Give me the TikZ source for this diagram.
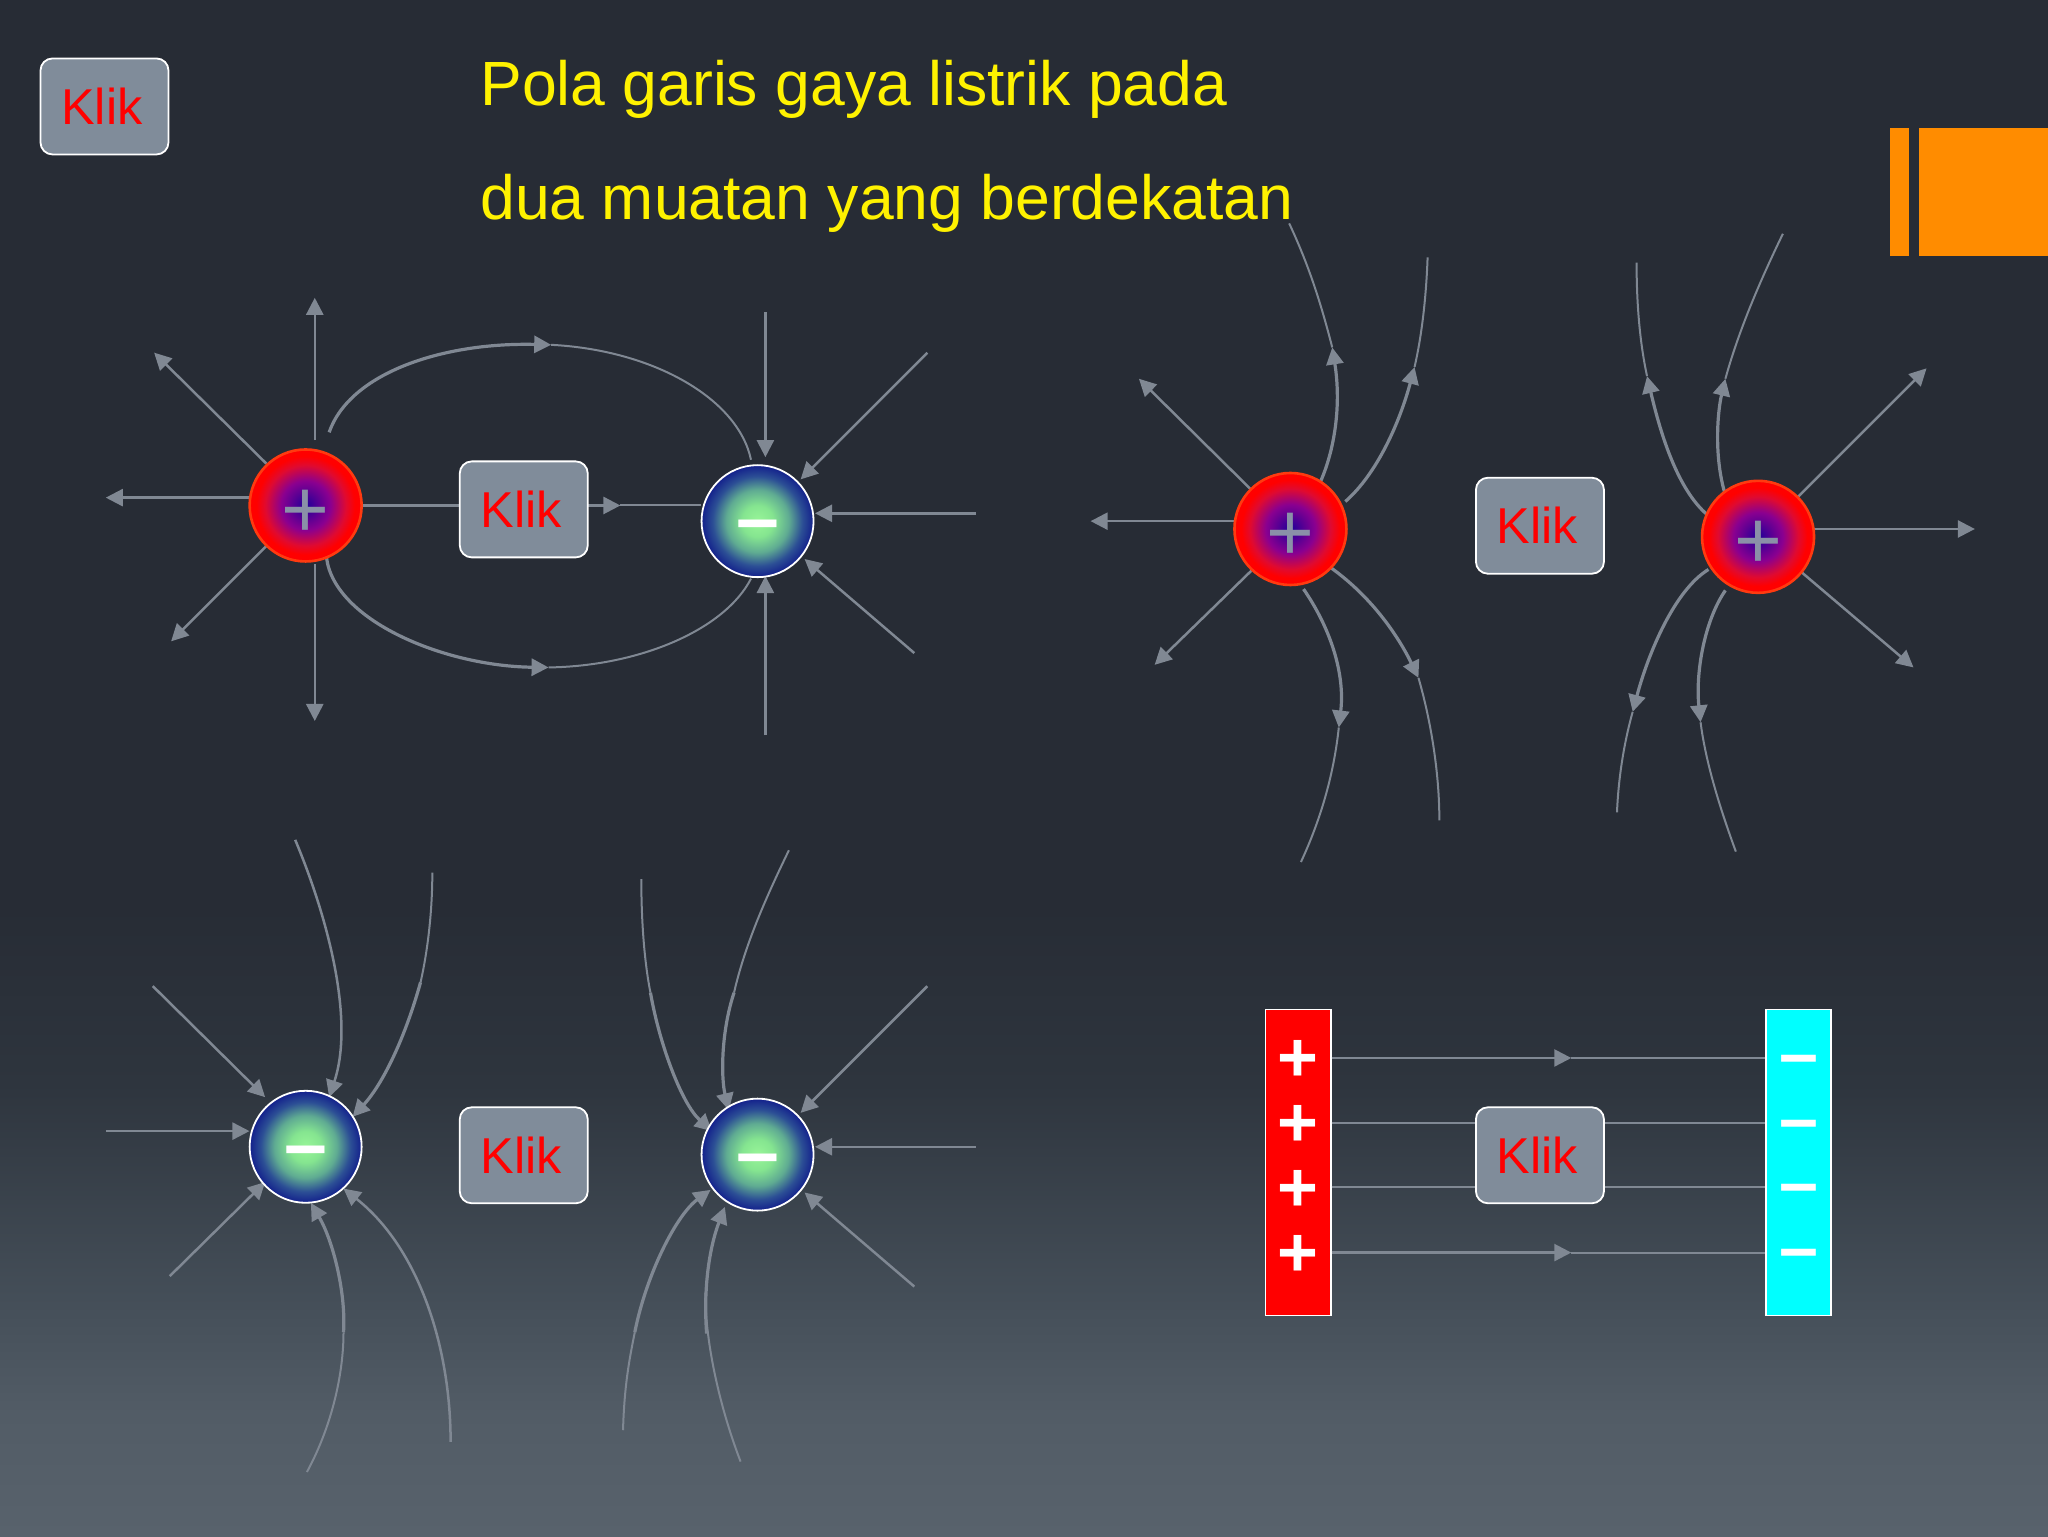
\documentclass[tikz,border=0pt]{standalone}
\usepackage{fontspec}
\setmainfont{Liberation Sans}
\usetikzlibrary{arrows.meta}
\definecolor{bgtop}{HTML}{272C35}
\definecolor{bgmid}{HTML}{2E353E}
\definecolor{bglow}{HTML}{454F59}
\definecolor{bglow2}{HTML}{525C66}
\definecolor{bgbot}{HTML}{58626C}
\definecolor{linecol}{HTML}{808893}
\definecolor{boxfill}{HTML}{808C9A}
\definecolor{plusc}{HTML}{8A90A8}
\definecolor{orangebar}{HTML}{FF8C00}
\definecolor{cyanplate}{HTML}{00FFFF}
\definecolor{redplate}{HTML}{FF0000}
\definecolor{pa}{HTML}{200098}
\definecolor{pb}{HTML}{8A0090}
\definecolor{pc}{HTML}{E00A30}
\definecolor{pd}{HTML}{FF0000}
\definecolor{na}{HTML}{98F598}
\definecolor{nb}{HTML}{85E590}
\definecolor{nc}{HTML}{5FAB92}
\definecolor{nd}{HTML}{2C4F95}
\definecolor{ne}{HTML}{13208C}
\definecolor{posring}{HTML}{FF3A10}
\pgfdeclareverticalshading{bgshade}{100bp}{
  color(0bp)=(bgbot); color(25bp)=(bgbot); color(29bp)=(bglow2); color(32.5bp)=(bglow); color(39.7bp)=(bgmid); color(45.5bp)=(bgtop); color(100bp)=(bgtop)}
\pgfdeclareradialshading{poscharge}{\pgfpoint{0bp}{0bp}}{
  color(0bp)=(pa); color(11bp)=(pb); color(18bp)=(pc); color(22bp)=(pd); color(25bp)=(pd); color(50bp)=(pd)}
\pgfdeclareradialshading{negcharge}{\pgfpoint{0bp}{0bp}}{
  color(0bp)=(na); color(7bp)=(nb); color(14bp)=(nc); color(20bp)=(nd); color(25bp)=(ne); color(50bp)=(ne)}
\newcommand{\possign}{\smash{\raisebox{-.385em}{+}}}
\newcommand{\negsign}{\smash{\raisebox{-.308em}{–}}}
\newcommand{\plateplus}{\smash{\raisebox{-.34em}{+}}}
\newcommand{\plateminus}{\smash{\raisebox{-.277em}{–}}}
\newcommand{\kliktext}{Klik\kern2.6pt\relax}
\tikzset{
  fl/.style={draw=linecol,line width=1.25pt,-{Triangle[length=8.5pt,width=8.5pt]}},
  fc/.style={fl,line width=1.6pt},
  fthin/.style={draw=linecol,line width=1pt},
  klik/.style={draw=white,line width=0.9pt,fill=boxfill,rounded corners=6pt,minimum width=64pt,minimum height=48pt,inner sep=0pt,text=red,font=\fontsize{25.2}{25.2}\selectfont},
  posq/.style={circle,minimum size=56pt,inner sep=0pt,shading=poscharge,draw=posring,line width=1.3pt,text=plusc,font=\fontsize{41}{41}\selectfont},
  negq/.style={circle,minimum size=56pt,inner sep=0pt,shading=negcharge,draw=white,line width=0.9pt,text=white,font=\bfseries\fontsize{38.5}{38.5}\selectfont},
  plate/.style={draw=white,line width=0.7pt,minimum width=32.6pt,minimum height=153pt,inner sep=0pt},
  sign/.style={inner sep=0pt,text=white,font=\bfseries\fontsize{35}{35}\selectfont},
  titletext/.style={anchor=base west,inner sep=0pt,text=yellow,font=\fontsize{31.25}{31.25}\selectfont},
  bar/.style={fill=orangebar,inner sep=0pt,anchor=north west}
}
\begin{document}
\begin{tikzpicture}[x=0.65306pt,y=-0.65306pt]
\useasboundingbox (0,0) rectangle (1568,1176);
\shade[shading=bgshade] (0,0) rectangle (1568,1176);
\node[bar,minimum width=9.5pt,minimum height=64pt] (bar1) at (1447,98) {};
\node[bar,minimum width=64.6pt,minimum height=64pt] (bar2) at (1469,98) {};
\node[titletext] (t1) at (367.5,81) {Pola garis gaya listrik pada};
\node[titletext] (t2) at (367.5,168) {dua muatan yang berdekatan};
\node[klik] (k0) at (80,81.5) {\kliktext};
% Panel A
\coordinate (a1) at (241,337); \coordinate (a1e) at (241,228);
\coordinate (a2) at (204,355); \coordinate (a2e) at (118,270);
\coordinate (a3) at (191,381); \coordinate (a3e) at (81,381);
\coordinate (a4) at (204,418); \coordinate (a4e) at (131,491);
\coordinate (a5) at (241,432); \coordinate (a5e) at (241,552);
\coordinate (a6) at (277,387); \coordinate (a6m) at (475,387); \coordinate (a6e) at (537,387);
\coordinate (a7) at (252,331); \coordinate (a7m) at (422,264); \coordinate (a7e) at (575,352);
\coordinate (a8) at (250,427); \coordinate (a8m) at (420,511); \coordinate (a8e) at (575,443);
\coordinate (b1) at (586,239); \coordinate (b1e) at (586,350);
\coordinate (b2) at (710,270); \coordinate (b2e) at (613,367);
\coordinate (b3) at (747,393); \coordinate (b3e) at (624,393);
\coordinate (b4) at (700,500); \coordinate (b4e) at (616,428);
\coordinate (b5) at (586,563); \coordinate (b5e) at (586,441);
\foreach \s/\e in {a1/a1e,a2/a2e,a3/a3e,a4/a4e,a5/a5e,a6/a6m,b1/b1e,b2/b2e,b3/b3e,b4/b4e,b5/b5e}
  \draw[fl] (\s) -- (\e);
\draw[fthin] (a6m) -- (a6e);
\draw[fc] (a7) .. controls (268,285) and (340,262) .. (a7m);
\draw[fthin] (a7m) .. controls (500,268) and (565,305) .. (a7e);
\draw[fc] (a8) .. controls (256,475) and (340,510) .. (a8m);
\draw[fthin] (a8m) .. controls (490,510) and (555,482) .. (a8e);
\node[posq] (qa) at (234,387) {\possign};
\node[negq] (qb) at (580,399) {\negsign};
\node[klik] (k1) at (401,390) {\kliktext};
% Panel B
\coordinate (c1) at (958,375); \coordinate (c1e) at (872,290);
\coordinate (c2) at (946,399); \coordinate (c2e) at (835,399);
\coordinate (c3) at (958,437); \coordinate (c3e) at (884,509);
\coordinate (c4) at (1010,371); \coordinate (c4m) at (1020,266); \coordinate (c4e) at (987,171);
\coordinate (c5) at (1030,384); \coordinate (c5m) at (1083,281); \coordinate (c5e) at (1093,197);
\coordinate (c6) at (998,451); \coordinate (c6m) at (1025,557); \coordinate (c6e) at (996,660);
\coordinate (c7) at (1018,434); \coordinate (c7m) at (1086,519); \coordinate (c7e) at (1102,628);
\coordinate (d1) at (1376,381); \coordinate (d1e) at (1475,282);
\coordinate (d2) at (1389,405); \coordinate (d2e) at (1512,405);
\coordinate (d3) at (1378,437); \coordinate (d3e) at (1465,511);
\coordinate (d4) at (1307,394); \coordinate (d4m) at (1261,288); \coordinate (d4e) at (1253,201);
\coordinate (d5) at (1321,379); \coordinate (d5m) at (1321,290); \coordinate (d5e) at (1365,179);
\coordinate (d6) at (1308,436); \coordinate (d6m) at (1250,545); \coordinate (d6e) at (1238,622);
\coordinate (d7) at (1321,452); \coordinate (d7m) at (1302,553); \coordinate (d7e) at (1329,652);
\foreach \s/\e in {c1/c1e,c2/c2e,c3/c3e,d1/d1e,d2/d2e,d3/d3e}
  \draw[fl] (\s) -- (\e);
\draw[fc] (c4) .. controls (1022,345) and (1027,310) .. (c4m);
\draw[fthin] (c4m) .. controls (1012,235) and (1003,205) .. (c4e);
\draw[fc] (c5) .. controls (1055,362) and (1072,322) .. (c5m);
\draw[fthin] (c5m) .. controls (1089,255) and (1092,225) .. (c5e);
\draw[fc] (c6) .. controls (1018,480) and (1030,515) .. (c6m);
\draw[fthin] (c6m) .. controls (1021,595) and (1010,630) .. (c6e);
\draw[fc] (c7) .. controls (1052,458) and (1072,490) .. (c7m);
\draw[fthin] (c7m) .. controls (1095,550) and (1102,590) .. (c7e);
\draw[fc] (d4) .. controls (1285,375) and (1272,335) .. (d4m);
\draw[fthin] (d4m) .. controls (1255,260) and (1253,230) .. (d4e);
\draw[fc] (d5) .. controls (1312,350) and (1315,315) .. (d5m);
\draw[fthin] (d5m) .. controls (1332,250) and (1350,210) .. (d5e);
\draw[fc] (d6) .. controls (1282,452) and (1262,500) .. (d6m);
\draw[fthin] (d6m) .. controls (1243,570) and (1239,597) .. (d6e);
\draw[fc] (d7) .. controls (1305,475) and (1298,515) .. (d7m);
\draw[fthin] (d7m) .. controls (1306,585) and (1318,622) .. (d7e);
\node[posq] (qc) at (988,405) {\possign};
\node[posq] (qd) at (1346,411) {\possign};
\node[klik] (k2) at (1179,402.5) {\kliktext};
% Panel C
\coordinate (e1) at (117,755); \coordinate (e1e) at (203,840);
\coordinate (e2) at (81,866); \coordinate (e2e) at (191,866);
\coordinate (e3) at (130,977); \coordinate (e3e) at (203,905);
\coordinate (e4) at (226,643); \coordinate (e4e) at (252,840);
\coordinate (e5) at (331,668); \coordinate (e5m) at (322,752); \coordinate (e5e) at (270,855);
\coordinate (e6) at (235,1127); \coordinate (e6m) at (263,1020); \coordinate (e6e) at (238,921);
\coordinate (e7) at (345,1104); \coordinate (e7e) at (263,910);
\coordinate (f1) at (710,755); \coordinate (f1e) at (613,852);
\coordinate (f2) at (747,878); \coordinate (f2e) at (624,878);
\coordinate (f3) at (700,985); \coordinate (f3e) at (616,913);
\coordinate (f4) at (491,673); \coordinate (f4m) at (498,760); \coordinate (f4e) at (545,866);
\coordinate (f5) at (604,651); \coordinate (f5m) at (562,760); \coordinate (f5e) at (558,850);
\coordinate (f6) at (477,1095); \coordinate (f6m) at (486,1020); \coordinate (f6e) at (544,911);
\coordinate (f7) at (567,1119); \coordinate (f7n) at (540,990); \coordinate (f7m) at (541,1021); \coordinate (f7e) at (555,924);
\foreach \s/\e in {e1/e1e,e2/e2e,e3/e3e,f1/f1e,f2/f2e,f3/f3e}
  \draw[fl] (\s) -- (\e);
\draw[fl] (e4) .. controls (250,700) and (272,780) .. (e4e);
\draw[fthin] (e5) .. controls (331,700) and (327,730) .. (e5m);
\draw[fc] (e5m) .. controls (310,795) and (293,830) .. (e5e);
\draw[fthin] (e6) .. controls (255,1090) and (263,1050) .. (e6m);
\draw[fc] (e6m) .. controls (265,990) and (255,950) .. (e6e);
\draw[fl] (e7) .. controls (345,1030) and (320,955) .. (e7e);
\draw[fthin] (f4) .. controls (491,710) and (494,740) .. (f4m);
\draw[fc] (f4m) .. controls (505,800) and (522,845) .. (f4e);
\draw[fthin] (f5) .. controls (585,690) and (570,725) .. (f5m);
\draw[fc] (f5m) .. controls (552,790) and (552,825) .. (f5e);
\draw[fthin] (f6) .. controls (478,1060) and (482,1040) .. (f6m);
\draw[fc] (f6m) .. controls (495,975) and (518,930) .. (f6e);
\draw[fthin] (f7) .. controls (552,1080) and (540,1030) .. (f7n);
\draw[fc] (f7m) .. controls (538,980) and (545,950) .. (f7e);
\node[negq] (qe) at (234,878) {\negsign};
\node[negq] (qf) at (580,884) {\negsign};
\node[klik] (k3) at (401,884.5) {\kliktext};
% Panel D
\node[plate,fill=redplate] (pl) at (994,890) {};
\node[plate,fill=cyanplate] (pr) at (1377,890) {};
\coordinate (g1m) at (1203,810); \coordinate (g4m) at (1203,959);
\draw[fl] (pl.east |- g1m) -- (g1m);
\draw[fthin] (g1m) -- (pr.west |- g1m);
\draw[fl] (pl.east |- g4m) -- (g4m);
\draw[fthin] (g4m) -- (pr.west |- g4m);
\coordinate (g2) at (1100,859.5); \coordinate (g3) at (1100,909);
\draw[fthin] (pl.east |- g2) -- (pr.west |- g2);
\draw[fthin] (pl.east |- g3) -- (pr.west |- g3);
\foreach \y/\n in {810/1,859.5/2,909/3,959/4}{
  \node[sign] (ps\n) at (994,\y) {\plateplus};
  \node[sign] (ms\n) at (1377,\y) {\plateminus};
}
\node[klik] (k4) at (1179,884.5) {\kliktext};
\end{tikzpicture}
\end{document}
